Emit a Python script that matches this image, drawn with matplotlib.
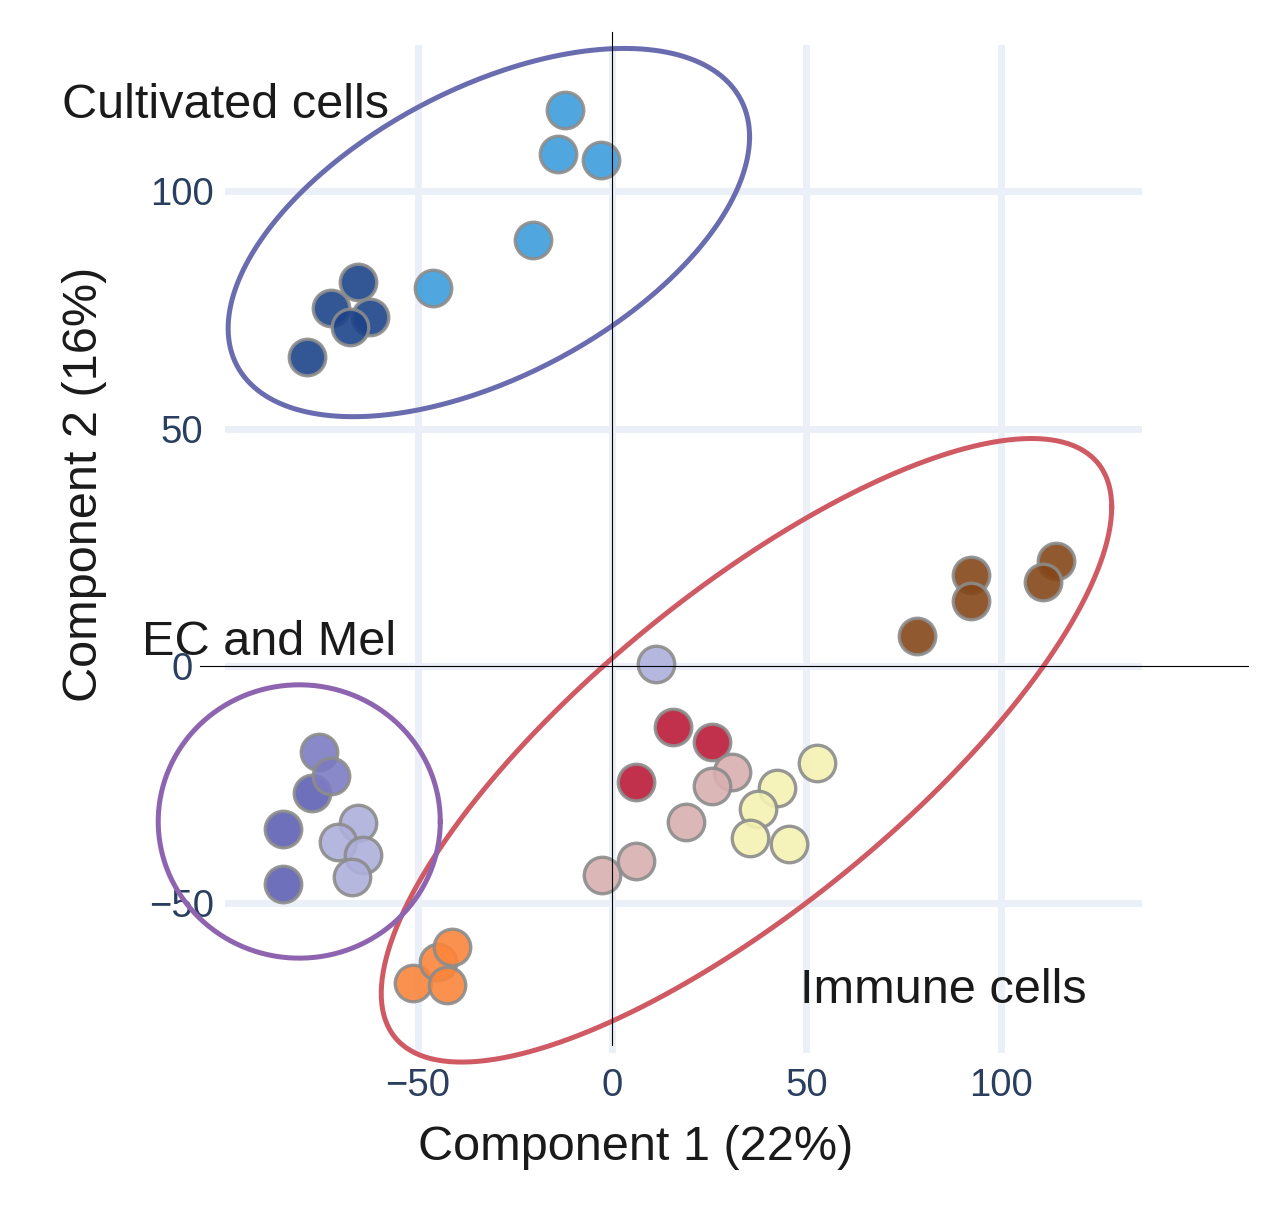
import numpy as np
import matplotlib.pyplot as plt

plt.rcParams['font.family'] = ['Liberation Sans', 'DejaVu Sans']

# ---- datos (componentes 1 y 2) ----
cult_dark_x = [-65.5, -72.2, -62.4, -67.5, -78.4]
cult_dark_y = [80.9, 75.3, 73.5, 71.4, 65.0]
cult_light_x = [-12.1, -13.9, -2.8, -20.4, -46.1]
cult_light_y = [117.1, 107.8, 106.5, 89.7, 79.7]

ec_light_x = [-75.3, -72.2]
ec_light_y = [-18.1, -23.2]
ec_dark_x = [-77.3, -84.8, -84.8]
ec_dark_y = [-26.8, -34.4, -46.0]
mel_x = [-65.5, -70.6, -64.2, -67.0, 11.3]
mel_y = [-33.2, -37.1, -39.9, -44.5, 0.4]

red_x = [15.7, 25.8, 6.2]
red_y = [-12.9, -16.1, -24.5]
pink_x = [30.9, 25.8, 19.1, 6.2, -2.6]
pink_y = [-22.4, -25.3, -32.9, -41.1, -44.1]
yellow_x = [52.8, 42.5, 37.6, 35.6, 45.6]
yellow_y = [-20.5, -25.8, -30.2, -36.3, -37.6]
orange_x = [-51.3, -44.8, -41.2, -42.5]
orange_y = [-66.8, -62.4, -59.2, -67.3]
brown_x = [78.4, 92.3, 92.3, 114.2, 110.8]
brown_y = [6.3, 19.1, 13.6, 22.0, 17.6]

# grupos: (x, y, color)
grupos = [
    (cult_dark_x, cult_dark_y, '#1d4389'),
    (cult_light_x, cult_light_y, '#3d9ddb'),
    (ec_dark_x, ec_dark_y, '#5f60b4'),
    (ec_light_x, ec_light_y, '#7c7bc3'),
    (mel_x, mel_y, '#aeb0db'),
    (red_x, red_y, '#bc1a37'),
    (pink_x, pink_y, '#d9b0b0'),
    (yellow_x, yellow_y, '#f4f2b2'),
    (orange_x, orange_y, '#fb853b'),
    (brown_x, brown_y, '#854718'),
]

# elipses: centro x, centro y, radio x, radio y, correlacion
elipses = [
    (-31.7, 91.3, 67.1, 38.8, 0.52, '#6a6cb0'),
    (34.6, -17.8, 94.0, 65.7, 0.78, '#d05a63'),
    (-80.5, -32.8, 36.3, 28.8, 0.0, '#8e64b0'),
]

etiquetas = ['Cultivated cells', 'EC and Mel', 'Immune cells']
etiq_x = [-141.5, -120.9, 48.4]
etiq_y = [115.4, 2.25, -71.1]

ticks = [-50, 0, 50, 100]

fig = plt.figure(figsize=(12.83, 12.16), dpi=100)
ax = fig.add_axes([0.1754, 0.1340, 0.7147, 0.8289])

for x, y, c in grupos:
    ax.scatter(x, y, s=690, c=c, edgecolors='#8c8c8c', linewidths=2.4,
               alpha=0.9, zorder=3)

t = np.linspace(0, 2 * np.pi, 400)
for cx, cy, rx, ry, rho, c in elipses:
    phi = np.arccos(rho)
    ax.plot(cx + rx * np.cos(t), cy + ry * np.cos(t - phi), color=c,
            linewidth=3.6, zorder=5, clip_on=False)

# lineas de cero
ax.plot([-106, 163.6], [0, 0], color='black', linewidth=0.8, zorder=6, clip_on=False)
ax.plot([0, 0], [133.5, -79.9], color='black', linewidth=0.8, zorder=6, clip_on=False)

for s, xx, yy in zip(etiquetas, etiq_x, etiq_y):
    ax.text(xx, yy, s, fontsize=35, color='#1a1a1a', ha='left', va='baseline',
            clip_on=False, zorder=7)

ax.set_xlim(-99.6, 136.4)
ax.set_ylim(-81.6, 130.8)
ax.set_xticks(ticks)
ax.set_yticks(ticks)
ax.grid(True, color='#ebf0f8', linewidth=5)
ax.set_axisbelow(True)
for sp in ax.spines.values():
    sp.set_visible(False)
ax.tick_params(length=0, labelsize=27.5, labelcolor='#2a3f5f')
ax.tick_params(axis='x', pad=11)
ax.tick_params(axis='y', pad=31)
for lbl in ax.get_yticklabels():
    lbl.set_horizontalalignment('center')

ax.set_xlabel('Component 1 (22%)', fontsize=35, color='#1a1a1a', va='baseline')
ax.xaxis.set_label_coords(0.448, -0.106)
ax.set_ylabel('Component 2 (16%)', fontsize=35, color='#1a1a1a', va='baseline',
              ha='center', rotation_mode='anchor')
ax.yaxis.set_label_coords(-0.1396, 0.5645)

fig.savefig('out.png', dpi=100)
